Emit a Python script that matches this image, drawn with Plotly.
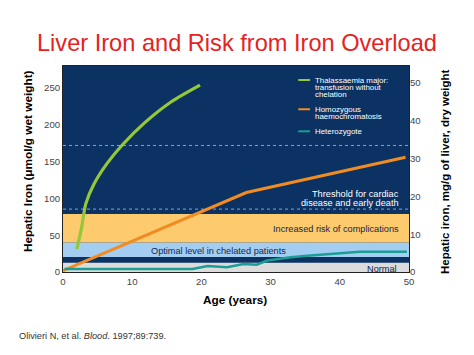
import plotly.graph_objects as go

# ---- data ----
thal_age = [2.0, 2.7, 3.3, 4.5, 6.4, 8.6, 11.7, 15.6, 19.8]
thal_iron = [31, 61, 93, 120, 148, 173, 202, 231, 254]

homo_age = [0, 26.5, 49.5]
homo_iron = [2, 108, 156]

het_age = [0.2, 18.7, 20.9, 23.7, 26.1, 28.0, 29.5, 32.9, 35.3, 39.1, 42.9, 49.7]
het_iron = [4, 4, 8.2, 6.4, 10.9, 10, 15.6, 20, 22, 24.5, 27.6, 27.6]

series_names = ["Thalassaemia major:", "transfusion without", "chelation",
                "Homozygous", "haemochromatosis", "Heterozygote"]

# risk bands (μmol/g wet weight)
band_normal = [0, 12.6]
band_optimal = [20.5, 40]
band_risk = [40, 79]
dotted_levels = [85.5, 172]

x_ticks = [0, 10, 20, 30, 40, 50]
y_ticks = [0, 50, 100, 150, 200, 250]
y2_ticks = [0, 10, 20, 30, 40, 50]

NAVY = "#0b3263"
GREEN = "#93c83a"
ORANGE = "#f28c22"
TEAL = "#1a9e96"
FONT = "Liberation Sans, Arial, sans-serif"

fig = go.Figure()
fig.add_trace(go.Scatter(x=thal_age, y=thal_iron, mode="lines", line=dict(color=GREEN, width=3.2, shape="spline", smoothing=0.8), showlegend=False))
fig.add_trace(go.Scatter(x=homo_age, y=homo_iron, mode="lines", line=dict(color=ORANGE, width=3), showlegend=False))
fig.add_trace(go.Scatter(x=het_age, y=het_iron, mode="lines", line=dict(color=TEAL, width=2.5), showlegend=False))
# invisible trace for right axis
fig.add_trace(go.Scatter(x=[0], y=[0], yaxis="y2", mode="markers", marker=dict(opacity=0), showlegend=False, hoverinfo="skip"))

shapes = []
def band(y0, y1, color):
    shapes.append(dict(type="rect", xref="x", yref="y", x0=0, x1=50, y0=y0, y1=y1,
                       fillcolor=color, line=dict(width=0), layer="below"))
band(band_normal[0], band_normal[1], "#dcdcdc")
band(band_optimal[0], band_optimal[1], "#a4cdf2")
band(band_risk[0], band_risk[1], "#fdca6e")
for lv in dotted_levels:
    shapes.append(dict(type="line", xref="x", yref="y", x0=0, x1=50, y0=lv, y1=lv,
                       line=dict(color="#7fa7d8", width=1, dash="dot"), layer="below"))

# legend samples
leg_colors = [GREEN, ORANGE, TEAL]
leg_rows = [0.932, 0.790, 0.683]
for c, yy in zip(leg_colors, leg_rows):
    shapes.append(dict(type="line", xref="paper", yref="paper", x0=0.680, x1=0.714, y0=yy, y1=yy,
                       line=dict(color=c, width=2)))

ann = []
def text(t, x, y, size, color, xanchor="left", bold=False, angle=0):
    ann.append(dict(text=t, x=x, y=y, xref="paper", yref="paper", showarrow=False,
                    xanchor=xanchor, yanchor="middle", textangle=angle,
                    font=dict(family=FONT, size=size, color=color,
                              weight="bold" if bold else "normal")))

leg_text_y = [0.932, 0.897, 0.861, 0.790, 0.754, 0.683]
for t, yy in zip(series_names, leg_text_y):
    text(t, 0.7217, yy, 7.9, "white")

text("Threshold for cardiac", 0.976, 0.379, 9.2, "white", xanchor="right")
text("disease and early death", 0.976, 0.334, 9.2, "white", xanchor="right")
text("Increased risk of complications", 0.976, 0.209, 9.2, "#14264d", xanchor="right")
text("Optimal level in chelated patients", 0.448, 0.102, 9.2, "#14264d", xanchor="center")
text("Normal", 0.972, 0.0146, 9.2, "#14264d", xanchor="right")

text("Liver Iron and Risk from Iron Overload", 0.502, 1.110, 23.6, "#e3231f", xanchor="center")
text("Hepatic Iron (μmol/g wet weight)", -0.101, 0.539, 11.8, "black", xanchor="center", bold=True, angle=-90)
text("Hepatic iron, mg/g of liver, dry weight", 1.104, 0.490, 11.5, "black", xanchor="center", bold=True, angle=-90)
text("Age (years)", 0.497, -0.136, 11.8, "black", xanchor="center", bold=True)
text("Olivieri N, et al. <i>Blood</i>. 1997;89:739.", -0.134, -0.309, 9.2, "#333333")

# the page body adds an 8px offset; margins compensate so the plot lands where the reference has it
fig.update_layout(
    width=474, height=355,
    margin=dict(l=55, r=73, t=58, b=91, autoexpand=False),
    paper_bgcolor="white", plot_bgcolor=NAVY,
    font=dict(family=FONT, color="#444444"),
    shapes=shapes, annotations=ann, showlegend=False,
    xaxis=dict(range=[0, 50], tickvals=x_ticks, showgrid=False, zeroline=False,
               showline=True, linecolor="#222222", linewidth=1, mirror=True,
               tickfont=dict(size=9.6, color="#444444"), ticks="", fixedrange=True),
    yaxis=dict(range=[0, 280], tickvals=y_ticks, showgrid=False, zeroline=False,
               showline=True, linecolor="#222222", linewidth=1, mirror=True,
               tickfont=dict(size=9.6, color="#444444"), ticks="", fixedrange=True),
    yaxis2=dict(range=[0, 54.4], tickvals=y2_ticks, overlaying="y", side="right",
                showgrid=False, zeroline=False, showline=False,
                tickfont=dict(size=9.6, color="#444444"), ticks="", fixedrange=True),
)

fig.write_html("out.html")
